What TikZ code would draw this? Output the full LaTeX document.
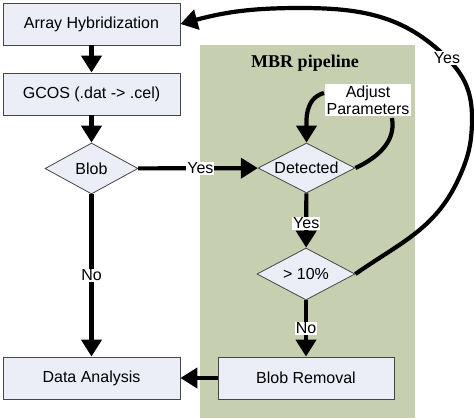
\documentclass[tikz,border=0pt]{standalone}
\usepackage{fontspec}
\setmainfont{Liberation Sans}
\newfontfamily\titlefont{Liberation Serif}
\usetikzlibrary{arrows.meta,shapes.geometric}
\definecolor{pipegreen}{RGB}{198,208,176}
\definecolor{boxfill}{RGB}{235,237,247}
\definecolor{boxline}{RGB}{70,70,70}
\tikzset{
  procbox/.style={draw=boxline, line width=0.8pt, fill=boxfill, minimum width=177pt, minimum height=42pt, inner sep=0pt, font=\fontsize{16}{18}\selectfont},
  decbox/.style={diamond, draw=boxline, line width=0.8pt, fill=boxfill, aspect=2, inner sep=0pt, font=\fontsize{16}{18}\selectfont},
  conn/.style={line width=4.2pt, -{Triangle[width=20pt,length=17pt]}},
  plain/.style={line width=4.2pt},
  lbl/.style={fill=white, inner sep=1pt, font=\fontsize{16}{18}\selectfont}
}
\begin{document}
\begin{tikzpicture}[x=1pt,y=-1pt]
\useasboundingbox (0,0) rectangle (474,418);
\fill[pipegreen] (200,45) rectangle (415,418);
\node[font=\titlefont\bfseries\fontsize{18}{20}\selectfont] (title) at (305,63) {MBR pipeline};

\node[procbox] (ah) at (91.5,24) {Array Hybridization};
\node[procbox] (gcos) at (91.5,94) {GCOS (.dat -> .cel)};
\node[decbox, minimum width=93pt, minimum height=51pt] (blob) at (91.5,168.5) {Blob};
\node[procbox] (da) at (91.5,378) {Data Analysis};

\node[decbox, minimum width=97pt, minimum height=50pt] (det) at (306.5,168) {Detected};
\node[decbox, minimum width=98pt, minimum height=52pt] (gt) at (306,274) {> 10\%};
\node[procbox, minimum width=176pt] (br) at (306,378) {Blob Removal};
\node[fill=white, inner sep=2pt, align=center, font=\fontsize{16}{17}\selectfont, minimum width=86pt] (adj) at (368,100) {Adjust\\Parameters};

\draw[conn] (ah) -- (gcos);
\draw[conn] (gcos) -- (blob);
\draw[conn] (blob) -- node[lbl] (lno) {No} (da);
\draw[conn] (blob) -- node[lbl, pos=0.52] (lyes) {Yes} (det);
\draw[conn] (det) -- node[lbl, pos=0.55] (lyes2) {Yes} (gt);
\draw[conn] (gt) -- node[lbl, pos=0.5] (lno2) {No} (br);
\draw[conn] (br) -- (da);

\coordinate (adjin) at (392,118);
\coordinate (adjout) at (324,93);
\draw[plain] (det.east) to[out=25,in=-80] (adjin);
\draw[conn] (adjout) to[out=195,in=90] (det.north);

\draw[conn] (gt.east) to[out=35,in=-115] (458,180) to[out=65,in=-90] (472,118) to[out=90,in=-45] (447,58) to[out=135,in=0] (300,8) to[out=180,in=15] (ah.east);
\node[lbl] (lyes3) at (447,58) {Yes};
\end{tikzpicture}
\end{document}
